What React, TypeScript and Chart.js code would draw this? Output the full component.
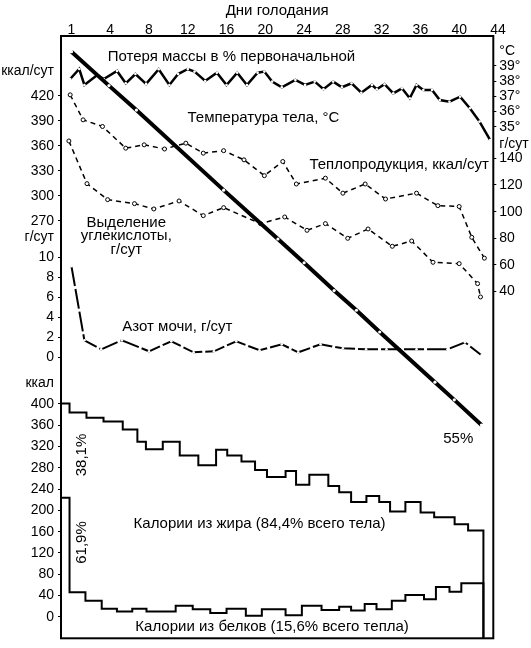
import React, { useEffect, useRef } from 'react';
import { Chart, registerables } from 'chart.js';

Chart.register(...registerables);

const FONT = '"Liberation Sans", Arial, Helvetica, sans-serif';
const TICK_SIZE = 14;
const NOTE_SIZE = 15;

// ---- x axis (days of starvation) ----
const dayTicks = [1, 4, 8, 12, 16, 20, 24, 28, 32, 36, 40, 44];
const xMinDay = 0.19;
const xMaxDay = 43.52;

// ---- body-mass loss, % of initial ----
const massDays = [1, 3.9, 6.7, 15.7, 21.3, 24, 27.1, 29.4, 31.8, 37.5, 39.5, 42.3];
const massLoss = [0, 5.0, 8.6, 20.4, 27.6, 31.1, 35.2, 38.1, 41.3, 48.7, 51.3, 55];

// ---- body temperature, °C ----
const tempDays = [0.9, 1.6, 2.0, 3.0, 3.5, 4.7, 5.6, 6.6, 7.7, 9.0, 10.1, 11.0, 12.0, 12.7, 13.8, 15.0, 16.0, 17.1, 18.1, 19.2, 19.9, 20.7, 21.7, 23.1, 24.1, 25.1, 26.0, 27.0, 27.9, 28.9, 29.9, 31.0, 31.5, 32.3, 33.2, 34.1, 34.9, 35.6, 36.3, 37.2, 38.0, 39.0, 40.1, 41.1, 42.1, 43.2];
const temperature = [38.14, 38.8, 37.75, 38.41, 38.14, 38.67, 37.86, 38.47, 37.82, 38.78, 37.75, 38.47, 38.8, 38.63, 38.01, 38.56, 37.75, 38.56, 37.75, 38.56, 38.63, 37.97, 37.6, 38.08, 37.75, 37.97, 37.47, 37.97, 37.6, 37.86, 37.24, 37.75, 37.47, 37.8, 37.2, 37.53, 36.88, 37.75, 37.42, 37.42, 36.76, 36.65, 36.98, 36.22, 35.34, 34.13];

// ---- heat production, kcal/day ----
const heatDays = [0.9, 1.9, 3.4, 5.6, 7.5, 9.6, 11.8, 13.6, 15.7, 17.8, 19.9, 21.8, 23.2, 26.2, 28.0, 30.3, 32.4, 35.6, 37.8, 40.0, 41.3, 42.6];
const heatKcal = [421, 391, 383, 357, 361, 356, 363, 351, 354, 343, 324, 341, 314, 321, 303, 314, 296, 303, 288, 287, 250, 225];

// ---- CO2 output, g/day ----
const co2Days = [0.8, 2.2, 3.8, 6.5, 8.5, 11.1, 13.6, 15.7, 19.5, 22.0, 24.3, 26.2, 28.5, 30.6, 33.1, 35.1, 37.3, 40.0, 41.9, 42.2];
const co2 = [153, 121, 109, 106, 102, 108, 97, 103, 91, 96, 86, 91, 80, 87, 74, 78, 62, 61, 46, 36];

// ---- urinary nitrogen, g/day ----
const nDays = [1.0, 2.0, 3.3, 5.2, 8.0, 10.3, 12.6, 14.7, 17.0, 19.4, 21.7, 23.4, 25.7, 28.0, 30.4, 32.5, 35.6, 38.8, 40.6, 42.3];
const nitrogen = [9.1, 1.7, 0.8, 1.7, 0.6, 1.6, 0.5, 0.6, 1.6, 0.7, 1.3, 0.5, 1.3, 0.9, 0.8, 0.8, 0.8, 0.8, 1.5, 0.2];

// ---- calories from fat (step starts), kcal ----
const fatDays = [0.2, 0.85, 2.16, 3.48, 5.29, 6.8, 7.68, 9.42, 11.17, 13.09, 14.92, 16.07, 17.54, 18.94, 20.17, 22.09, 23.17, 24.54, 26.5, 27.62, 28.85, 30.43, 31.75, 32.87, 34.45, 36.02, 37.42, 39.53, 40.92, 42.5];
const fatKcal = [401, 384, 374, 367, 352, 329, 315, 329, 303, 285, 314, 303, 292, 276, 263, 274, 248, 267, 246, 234, 216, 227, 216, 198, 216, 196, 187, 174, 162, 162];

// ---- calories from protein (step starts), kcal ----
const protDays = [0.2, 0.85, 2.08, 3.34, 4.69, 6.27, 7.74, 10.75, 12.51, 14.32, 16.0, 17.99, 19.64, 22.09, 23.77, 25.8, 27.62, 28.85, 30.25, 31.47, 33.05, 34.45, 36.37, 37.6, 39.0, 40.22, 42.5];
const protKcal = [224, 46, 30, 15, 10, 15, 10, 21, 14, 7, 15, 2, 14, 3, 21, 13, 19, 12, 24, 14, 30, 41, 33, 56, 47, 63, 63];

// ---- axis ticks ----
const heatTicks = [270, 300, 330, 360, 390, 420];
const nTicks = [0, 2, 4, 6, 8, 10];
const kcalTicks = [0, 40, 80, 120, 160, 200, 240, 280, 320, 360, 400];
const tempTicks = [35, 36, 37, 38, 39];
const co2Ticks = [40, 60, 80, 100, 120, 140];

// ---- text labels inside the plot ----
const notes = [
  { lines: ['Потеря массы в % первоначальной'], day: 16.5, y: 466.8, axis: 'yHeat', rotate: false },
  { lines: ['Температура тела, °C'], day: 19.8, y: 35.56, axis: 'yTemp', rotate: false },
  { lines: ['Теплопродукция, ккал/сут'], day: 33.8, y: 336.8, axis: 'yHeat', rotate: false },
  { lines: ['Выделение', 'углекислоты,', 'г/сут'], day: 5.66, y: 267.6, axis: 'yHeat', rotate: false },
  { lines: ['Азот мочи, г/сут'], day: 10.93, y: 3.06, axis: 'yN', rotate: false },
  { lines: ['55%'], day: 39.9, y: 333.6, axis: 'yKcal', rotate: false },
  { lines: ['38,1%'], day: 1.79, y: 304.1, axis: 'yKcal', rotate: true },
  { lines: ['61,9%'], day: 1.79, y: 139.7, axis: 'yKcal', rotate: true },
  { lines: ['Калории из жира (84,4% всего тела)'], day: 19.4, y: 174.4, axis: 'yKcal', rotate: false },
  { lines: ['Калории из белков (15,6% всего тепла)'], day: 20.7, y: -18.6, axis: 'yKcal', rotate: false },
];

function dayToPos(d: number): number {
  for (let i = 0; i < dayTicks.length - 1; i++) {
    if (d <= dayTicks[i + 1] || i === dayTicks.length - 2) {
      return i + (d - dayTicks[i]) / (dayTicks[i + 1] - dayTicks[i]);
    }
  }
  return 0;
}

function pts(days: number[], vals: number[]) {
  return days.map((d, i) => ({ x: dayToPos(d), y: vals[i] }));
}

const tickFont = { family: FONT, size: TICK_SIZE };
const titleFont = { family: FONT, size: NOTE_SIZE };

function stackedAxis(o: {
  position: 'left' | 'right';
  ticks: number[];
  unit: string;
  unitAt: number;
  min: number;
  max: number;
  order: number;
  stackWeight: number;
  width: number;
  padding: number;
  fmt?: (v: number) => string;
}) {
  return {
    type: 'linear',
    position: o.position,
    stack: o.position,
    stackWeight: o.stackWeight,
    weight: o.order,
    min: o.min,
    max: o.max,
    afterBuildTicks: (s: any) => {
      s.ticks = [...o.ticks, o.unitAt].map((v) => ({ value: v }));
    },
    afterFit: (s: any) => {
      s.width = o.width;
      s.paddingTop = 0;
      s.paddingBottom = 0;
      s.paddingLeft = 0;
      s.paddingRight = 0;
    },
    grid: {
      display: true,
      drawOnChartArea: false,
      drawTicks: true,
      tickLength: 3,
      tickWidth: 1,
      tickColor: (ctx: any) => (ctx.tick && ctx.tick.value === o.unitAt ? 'rgba(0,0,0,0)' : '#000'),
    },
    border: { display: false },
    ticks: {
      autoSkip: false,
      padding: o.padding,
      color: '#000',
      font: tickFont,
      callback: (v: any) => (v === o.unitAt ? o.unit : o.fmt ? o.fmt(v) : String(v)),
    },
  };
}

const framePlugin = {
  id: 'frame',
  beforeDatasetsDraw(chart: any) {
    const { ctx, chartArea: a } = chart;
    ctx.save();
    ctx.strokeStyle = '#000';
    ctx.lineWidth = 2;
    ctx.strokeRect(a.left, a.top, a.right - a.left, a.bottom - a.top);
    ctx.restore();
  },
};

const notesPlugin = {
  id: 'notes',
  afterDatasetsDraw(chart: any) {
    const { ctx, scales } = chart;
    ctx.save();
    ctx.fillStyle = '#000';
    ctx.font = `${NOTE_SIZE}px ${FONT}`;
    ctx.textAlign = 'center';
    ctx.textBaseline = 'middle';
    for (const n of notes) {
      const x = scales.x.getPixelForValue(dayToPos(n.day));
      const y = scales[n.axis].getPixelForValue(n.y);
      if (n.rotate) {
        ctx.save();
        ctx.translate(x, y);
        ctx.rotate(-Math.PI / 2);
        ctx.fillText(n.lines[0], 0, 0);
        ctx.restore();
      } else {
        n.lines.forEach((t, i) => ctx.fillText(t, x, y + i * 13.5));
      }
    }
    ctx.restore();
  },
};

export default function App() {
  const ref = useRef<HTMLCanvasElement | null>(null);

  useEffect(() => {
    if (!ref.current) return;
    Chart.defaults.font.family = FONT;
    Chart.defaults.font.size = TICK_SIZE;
    Chart.defaults.color = '#000';

    const fatData = pts(fatDays, fatKcal);
    const protData = pts(protDays, protKcal);
    const kcalMin = -40.4;
    fatData.push({ x: dayToPos(fatDays[fatDays.length - 1]), y: kcalMin });
    protData.push({ x: dayToPos(protDays[protDays.length - 1]), y: kcalMin });

    const common = { borderColor: '#000', fill: false, clip: false, tension: 0 } as any;

    const chart = new Chart(ref.current, {
      type: 'line',
      data: {
        datasets: [
          {
            ...common,
            label: 'Потеря массы',
            data: pts(massDays, massLoss),
            yAxisID: 'yMass',
            borderWidth: 4,
            pointRadius: 1.6,
            pointBackgroundColor: '#fff',
            pointBorderWidth: 0,
          },
          {
            ...common,
            label: 'Температура тела',
            data: pts(tempDays, temperature),
            yAxisID: 'yTemp',
            borderWidth: 2.5,
            pointRadius: 1.3,
            pointBackgroundColor: '#fff',
            pointBorderWidth: 0,
          },
          {
            ...common,
            label: 'Теплопродукция',
            data: pts(heatDays, heatKcal),
            yAxisID: 'yHeat',
            borderWidth: 1.5,
            borderDash: [5, 4],
            pointRadius: 2,
            pointBackgroundColor: '#fff',
            pointBorderColor: '#000',
            pointBorderWidth: 1,
          },
          {
            ...common,
            label: 'Выделение углекислоты',
            data: pts(co2Days, co2),
            yAxisID: 'yCO2',
            borderWidth: 1.5,
            borderDash: [5, 4],
            pointRadius: 2,
            pointBackgroundColor: '#fff',
            pointBorderColor: '#000',
            pointBorderWidth: 1,
          },
          {
            ...common,
            label: 'Азот мочи',
            data: pts(nDays, nitrogen),
            yAxisID: 'yN',
            borderWidth: 2,
            borderDash: [20, 3],
            pointRadius: 1.3,
            pointBackgroundColor: '#fff',
            pointBorderWidth: 0,
          },
          {
            ...common,
            label: 'Калории из жира',
            data: fatData,
            yAxisID: 'yKcal',
            stepped: 'before',
            borderWidth: 2,
            pointRadius: 0,
          },
          {
            ...common,
            label: 'Калории из белков',
            data: protData,
            yAxisID: 'yKcal',
            stepped: 'before',
            borderWidth: 2,
            pointRadius: 0,
          },
        ],
      },
      options: {
        responsive: false,
        animation: false,
        events: [],
        layout: { padding: { top: 0, left: 0, right: 0, bottom: 9.7 } },
        plugins: { legend: { display: false }, tooltip: { enabled: false } },
        scales: {
          x: {
            type: 'linear',
            position: 'top',
            min: dayToPos(xMinDay),
            max: dayToPos(xMaxDay),
            afterBuildTicks: (s: any) => {
              s.ticks = dayTicks.map((d) => ({ value: dayToPos(d) }));
            },
            afterFit: (s: any) => {
              s.height = 36;
              s.paddingLeft = 0;
              s.paddingRight = 0;
              s.paddingTop = 0;
              s.paddingBottom = 0;
            },
            grid: { display: true, drawOnChartArea: false, drawTicks: false },
            border: { display: false },
            ticks: {
              autoSkip: false,
              maxRotation: 0,
              minRotation: 0,
              padding: -3,
              color: '#000',
              font: tickFont,
              callback: (_v: any, i: number) => String(dayTicks[i]),
            },
            title: { display: true, text: 'Дни голодания', color: '#000', font: titleFont, padding: { top: 2, bottom: 0 } },
          },
          yHeat: stackedAxis({ position: 'left', ticks: heatTicks, unit: 'ккал/сут', unitAt: 450, min: 258.8, max: 491.6, order: 3, stackWeight: 194, width: 61, padding: 4 }),
          yN: stackedAxis({ position: 'left', ticks: nTicks, unit: 'г/сут', unitAt: 12, min: -1.27, max: 12.73, order: 2, stackWeight: 140, width: 61, padding: 4 }),
          yKcal: stackedAxis({ position: 'left', ticks: kcalTicks, unit: 'ккал', unitAt: 440, min: -40.4, max: 463.9, order: 1, stackWeight: 268.3, width: 61, padding: 4 }),
          yTemp: stackedAxis({ position: 'right', ticks: tempTicks, unit: '°C', unitAt: 40, min: 34.46, max: 40.97, order: 1, stackWeight: 99, width: 37.7, padding: 3, fmt: (v) => `${v}°` }),
          yCO2: stackedAxis({ position: 'right', ticks: co2Ticks, unit: 'г/сут', unitAt: 151, min: -220.1, max: 157.5, order: 2, stackWeight: 503.3, width: 37.7, padding: 3 }),
          yMass: { type: 'linear', position: 'right', display: false, reverse: true, min: -2.31, max: 86.43, weight: 3 },
        } as any,
      },
      plugins: [framePlugin, notesPlugin],
    } as any);

    return () => chart.destroy();
  }, []);

  return (
    <div style={{ position: 'absolute', left: 0, top: 0, width: 531, height: 648, background: '#fff' }}>
      <canvas ref={ref} width={531} height={648} style={{ display: 'block', width: 531, height: 648 }} />
    </div>
  );
}
